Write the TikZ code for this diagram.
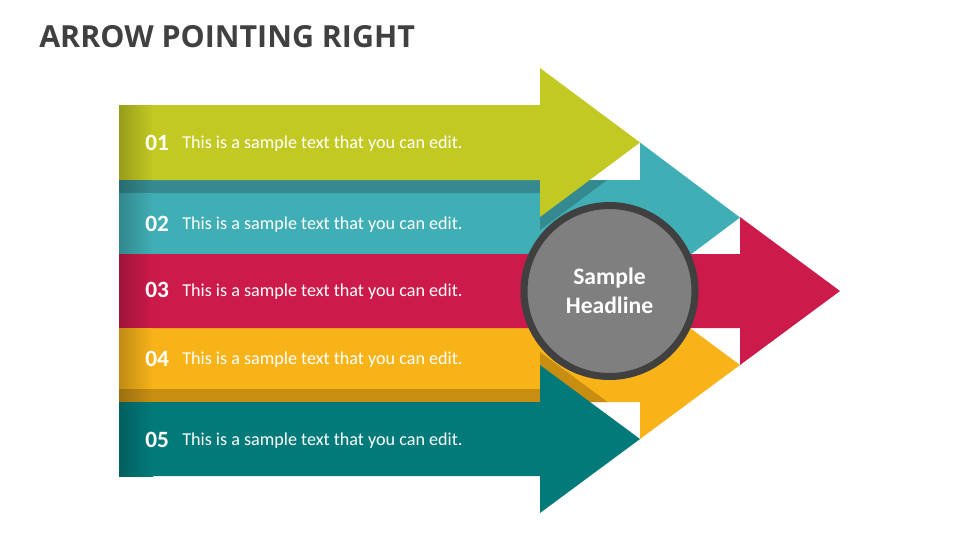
\documentclass[tikz,border=0pt]{standalone}
\usepackage{fontspec}
\setmainfont{Carlito}
\newfontfamily\titlefont{Open Sans}
\definecolor{cGreen}{RGB}{194,201,34}
\definecolor{cTeal}{RGB}{64,174,181}
\definecolor{cRed}{RGB}{204,26,74}
\definecolor{cOrange}{RGB}{248,179,25}
\definecolor{cDark}{RGB}{2,122,122}
\definecolor{cTealSh}{RGB}{53,138,144}
\definecolor{cOrangeSh}{RGB}{200,142,18}
\definecolor{cHub}{RGB}{127,127,127}
\definecolor{cHubLine}{RGB}{64,64,64}
\definecolor{cTitle}{RGB}{64,64,64}
% y1 y2 xs yt xt yc yb
\newcommand\arwshape[7]{(119,#1) -- (#3,#1) -- (#3,#4) -- (#5,#6) -- (#3,#7) -- (#3,#2) -- (119,#2) -- cycle}
\tikzset{
  numlabel/.style={anchor=base west,inner sep=0pt,text=white,font=\bfseries\fontsize{17.5}{20}\selectfont},
  txtlabel/.style={anchor=base west,inner sep=0pt,text=white,font=\fontsize{13.6}{16}\selectfont},
  hublabel/.style={anchor=base,inner sep=0pt,text=white,font=\bfseries\fontsize{17.7}{21}\selectfont},
  hubcircle/.style={circle,draw=cHubLine,fill=cHub,line width=5.25pt,minimum size=128.25pt,inner sep=0pt}
}
\begin{document}
\begin{tikzpicture}[x=0.75pt,y=-0.75pt]
\useasboundingbox[fill=white] (0,0) rectangle (960,540);
% under arrows
\fill[cTeal] \arwshape{180}{255}{640}{142.5}{740}{217.5}{292.5};
\fill[cOrange] \arwshape{328}{402}{640}{291}{740}{365}{439};
\fill[cRed] \arwshape{254}{328}{740}{217}{840}{291}{365};
% shadows
\begin{scope}
  \clip \arwshape{180}{255}{640}{142.5}{740}{217.5}{292.5};
  \fill[cTealSh,shift={(0,13)}] \arwshape{105}{180}{540}{68}{640}{142.5}{217};
\end{scope}
\begin{scope}
  \clip \arwshape{328}{402}{640}{291}{740}{365}{439};
  \fill[cOrangeSh,shift={(0,-13)}] \arwshape{402}{476}{540}{365}{640}{439}{513};
\end{scope}
% top arrows
\fill[cGreen] \arwshape{105}{180}{540}{68}{640}{142.5}{217};
\fill[cDark] \arwshape{402}{476}{540}{365}{640}{439}{513};
% left edge shading
\shade[left color=cGreen!78!black,right color=cGreen] (119,105) rectangle (153,180);
\shade[left color=cTealSh!78!black,right color=cTealSh] (119,180) rectangle (153,193);
\shade[left color=cTeal!78!black,right color=cTeal] (119,193) rectangle (153,254.5);
\shade[left color=cRed!78!black,right color=cRed] (119,254.5) rectangle (153,328);
\shade[left color=cOrange!78!black,right color=cOrange] (119,328) rectangle (153,389);
\shade[left color=cOrangeSh!78!black,right color=cOrangeSh] (119,389) rectangle (153,402);
\shade[left color=cDark!78!black,right color=cDark] (119,402) rectangle (153,476);
% hub
\node[hubcircle] (hub) at (609.5,291) {};
\node[hublabel] (hubA) at (609.5,284) {Sample};
\node[hublabel] (hubB) at (609.5,313) {Headline};
% labels
\node[numlabel] (n1) at (145,150) {01};
\node[txtlabel] (t1) at (182,148.3) {This is a sample text that you can edit.};
\node[numlabel] (n2) at (145,231) {02};
\node[txtlabel] (t2) at (182,229.8) {This is a sample text that you can edit.};
\node[numlabel] (n3) at (145,297) {03};
\node[txtlabel] (t3) at (182,296.7) {This is a sample text that you can edit.};
\node[numlabel] (n4) at (145,366) {04};
\node[txtlabel] (t4) at (182,364.3) {This is a sample text that you can edit.};
\node[numlabel] (n5) at (145,447) {05};
\node[txtlabel] (t5) at (182,445.3) {This is a sample text that you can edit.};
% title
\node[anchor=base west,inner sep=0pt,text=cTitle,font=\titlefont\bfseries\fontsize{22.8}{27}\selectfont] (title) at (39,47) {ARROW POINTING RIGHT};
\end{tikzpicture}
\end{document}
